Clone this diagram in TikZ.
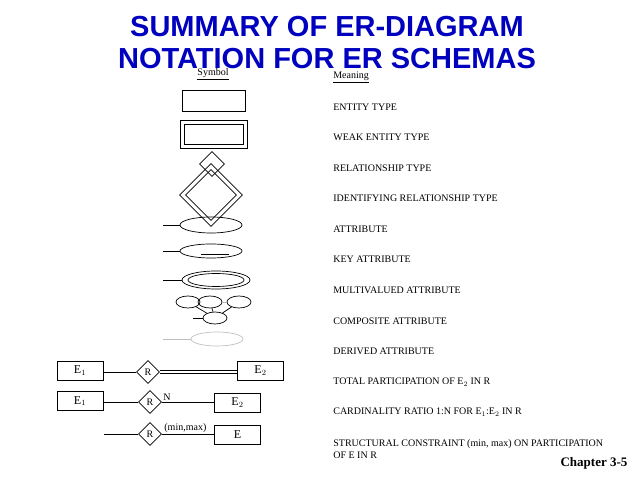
\documentclass[tikz,border=0pt]{standalone}
\usepackage{fontspec}
\usetikzlibrary{shapes.geometric}
\setmainfont{Liberation Serif}
\newfontfamily\titlefont{Liberation Sans}
\begin{document}
\begin{tikzpicture}[x=1pt,y=-1pt,line width=0.7pt,
  lbl/.style={anchor=west,inner sep=0,font=\fontsize{10}{12}\selectfont},
  ent/.style={draw,minimum width=46pt,minimum height=19pt,inner sep=0,font=\fontsize{12}{12}\selectfont},
  rel/.style={draw,diamond,shape aspect=1,minimum size=23pt,inner sep=0,font=\fontsize{10}{10}\selectfont},
  att/.style={draw,ellipse,inner sep=0}]
\useasboundingbox (0,0) rectangle (638,478);
\node[font=\titlefont\bfseries\fontsize{29}{32}\selectfont,text=blue!75!black,align=center] (t) at (327,43) {SUMMARY OF ER-DIAGRAM\\NOTATION FOR ER SCHEMAS};
\node[font=\fontsize{10}{12}\selectfont] (sym) at (213,74) {\underline{Symbol}};
\node[lbl] (mean) at (333,77) {\underline{Meaning}};
\foreach \y/\t [count=\i] in {107/ENTITY TYPE,137/WEAK ENTITY TYPE,168/RELATIONSHIP TYPE,198/IDENTIFYING RELATIONSHIP TYPE,229/ATTRIBUTE,259/KEY ATTRIBUTE,290/MULTIVALUED ATTRIBUTE,321/COMPOSITE ATTRIBUTE,351/DERIVED ATTRIBUTE}
  \node[lbl] (m\i) at (333,\y) {\t};
\node[lbl] (m10) at (333,382) {TOTAL PARTICIPATION OF E$_2$ IN R};
\node[lbl] (m11) at (333,412) {CARDINALITY RATIO 1:N FOR E$_1$:E$_2$ IN R};
\node[lbl,align=left] (m12) at (333,449) {STRUCTURAL CONSTRAINT (min, max) ON PARTICIPATION\\OF E IN R};
\node[font=\bfseries\fontsize{13}{13}\selectfont] (ch) at (594,463) {Chapter 3-5};
% entity
\node[draw,minimum width=63pt,minimum height=21pt,inner sep=0] (e) at (213.5,100.5) {};
\node[draw,minimum width=67pt,minimum height=28pt,inner sep=0] (w) at (213.5,134) {};
\node[draw,minimum width=59pt,minimum height=20pt,inner sep=0] (wi) at (213.5,134) {};
% relationship
\node[draw,diamond,shape aspect=1,minimum size=25pt,inner sep=0] (r) at (212,164) {};
\node[draw,diamond,shape aspect=1,minimum size=63pt,inner sep=0] (ir) at (211,195) {};
\node[draw,diamond,shape aspect=1,minimum size=51pt,inner sep=0] (iri) at (211,195) {};
% attribute
\node[att,minimum width=62pt,minimum height=16pt] (a) at (211,225) {};
\coordinate (a0) at (163,225); \draw (a0) -- (a.west);
\node[att,minimum width=62pt,minimum height=14pt] (k) at (211,251) {};
\coordinate (k0) at (163,251); \draw (k0) -- (k.west);
\draw ([xshift=-10pt,yshift=-3pt]k.center) -- ([xshift=18pt,yshift=-3pt]k.center);
\node[att,minimum width=68pt,minimum height=18pt] (mv) at (216,280) {};
\node[att,minimum width=56pt,minimum height=13pt] (mvi) at (216,280) {};
\coordinate (mv0) at (163,280); \draw (mv0) -- (mv.west);
% composite
\node[att,minimum width=24pt,minimum height=12pt] (c1) at (188,302) {};
\node[att,minimum width=24pt,minimum height=12pt] (c2) at (210,302) {};
\node[att,minimum width=24pt,minimum height=12pt] (c3) at (239,302) {};
\node[att,minimum width=24pt,minimum height=12pt] (c4) at (215,318) {};
\draw (c1) -- (c4) (c2) -- (c4) (c3) -- (c4);
\draw[gray!60] (c2) -- (c3);
\coordinate (c0) at (193,318); \draw (c0) -- (c4.west);
% derived
\node[att,draw=gray!50,minimum width=52pt,minimum height=14pt] (d) at (217,339) {};
\coordinate (d0) at (163,339); \draw[gray!50] (d0) -- (d.west);
% row 1
\node[ent] (r1a) at (80,370.5) {E$_1$};
\node[rel] (r1r) at (148,372) {R};
\node[ent] (r1b) at (260.5,370.5) {E$_2$};
\draw (r1a.east |- r1r.west) -- (r1r.west);
\draw[double,double distance=2pt] (r1r.east) -- (r1b.west |- r1r.east);
% row 2
\node[ent] (r2a) at (80,401) {E$_1$};
\node[rel] (r2r) at (150,402) {R};
\node[ent] (r2b) at (237.5,402.5) {E$_2$};
\draw (r2a.east |- r2r.west) -- (r2r.west);
\draw (r2r.east) -- node[pos=0.1,above,inner sep=1pt,font=\fontsize{10}{10}\selectfont]{N} (r2b.west |- r2r.east);
% row 3
\coordinate (r3a) at (104,434);
\node[rel] (r3r) at (150,434) {R};
\node[ent] (r3b) at (237.5,435) {E};
\draw (r3a) -- (r3r.west);
\draw (r3r.east) -- node[pos=0.45,above,inner sep=1pt,font=\fontsize{10}{10}\selectfont]{(min,max)} (r3b.west |- r3r.east);
\end{tikzpicture}
\end{document}
